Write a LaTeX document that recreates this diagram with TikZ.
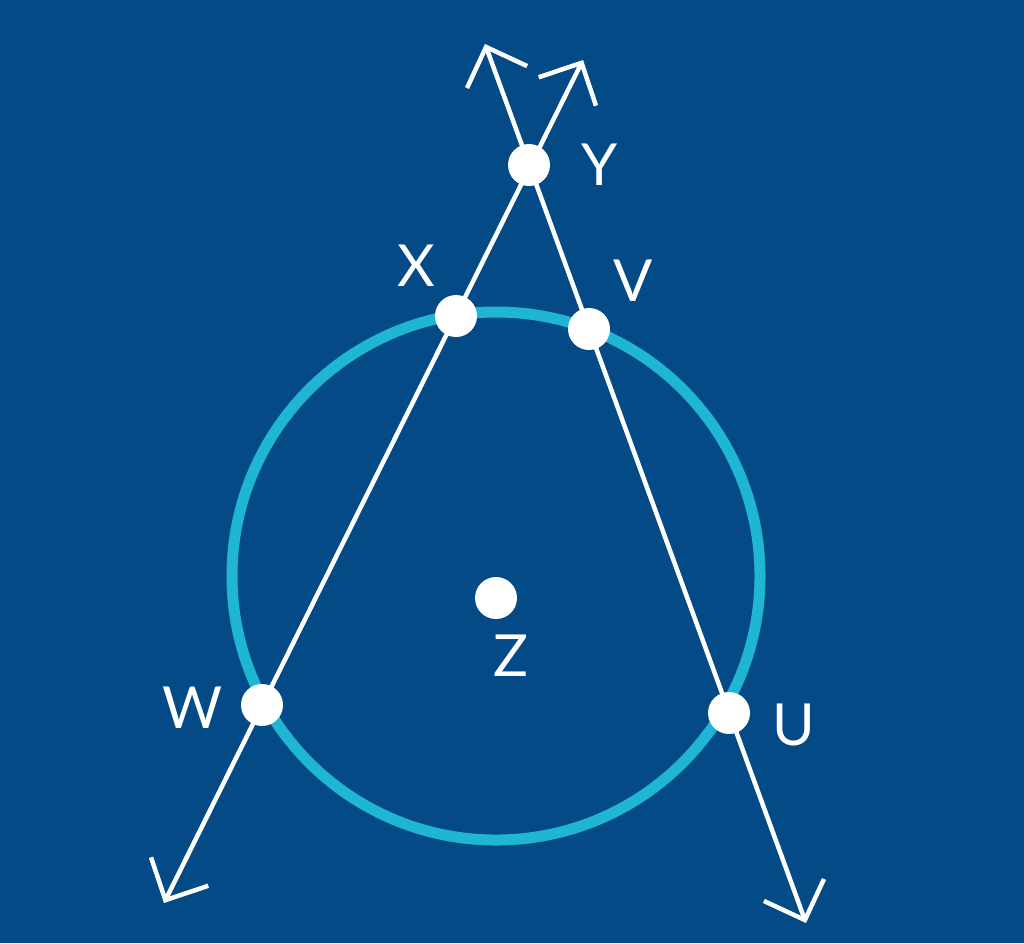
\documentclass[tikz,border=0pt]{standalone}
\usepackage{fontspec}
\setmainfont{Lato}
\definecolor{bgblue}{RGB}{3,74,135}
\definecolor{ringcyan}{RGB}{31,182,211}
\usetikzlibrary{arrows.meta, positioning}
\tikzset{
  pointdot/.style={circle, fill=white, inner sep=0pt, minimum size=42pt},
  ptlabel/.style={inner sep=0pt, text=white, font=\fontsize{58}{60}\selectfont},
  ring/.style={draw=ringcyan, line width=11pt},
  secant/.style={draw=white, line width=4.5pt, {Straight Barb[length=32pt, width=64pt]}-{Straight Barb[length=32pt, width=64pt]}}
}

\begin{document}
\begin{tikzpicture}[x=1pt, y=-1pt]

  % Background
  \fill[bgblue] (0,0) rectangle (1024,943);
  \useasboundingbox (0,0) rectangle (1024,943);

  % Circle
  \coordinate (centre) at (496,576);
  \draw[ring] (centre) circle[radius=264pt];

  % Ends of the two lines
  \coordinate (endTR) at (583,60);
  \coordinate (endBL) at (164,903);
  \coordinate (endTL) at (485,44);
  \coordinate (endBR) at (806,923);

  % Lines
  \draw[secant] (endBL) -- (endTR);
  \draw[secant] (endTL) -- (endBR);

  % Points
  \node (Y) [pointdot] at (529,165) {};
  \node (X) [pointdot] at (456,316) {};
  \node (V) [pointdot] at (589,329) {};
  \node (W) [pointdot] at (262,705) {};
  \node (U) [pointdot] at (729,713) {};
  \node (Z) [pointdot] at (496,598) {};

  % Labels
  \node (Ylab) [ptlabel, right=31pt of Y] {Y};
  \node (Xlab) [ptlabel, above left=14pt and 6pt of X] {X};
  \node (Vlab) [ptlabel, above right=12pt and 9pt of V] {V};
  \node (Wlab) [ptlabel, left=18pt of W, yshift=-3pt] {W};
  \node (Ulab) [ptlabel, right=22pt of U, yshift=-12pt] {U};
  \node (Zlab) [ptlabel, below=16pt of Z, xshift=15pt] {Z};
\end{tikzpicture}
\end{document}
